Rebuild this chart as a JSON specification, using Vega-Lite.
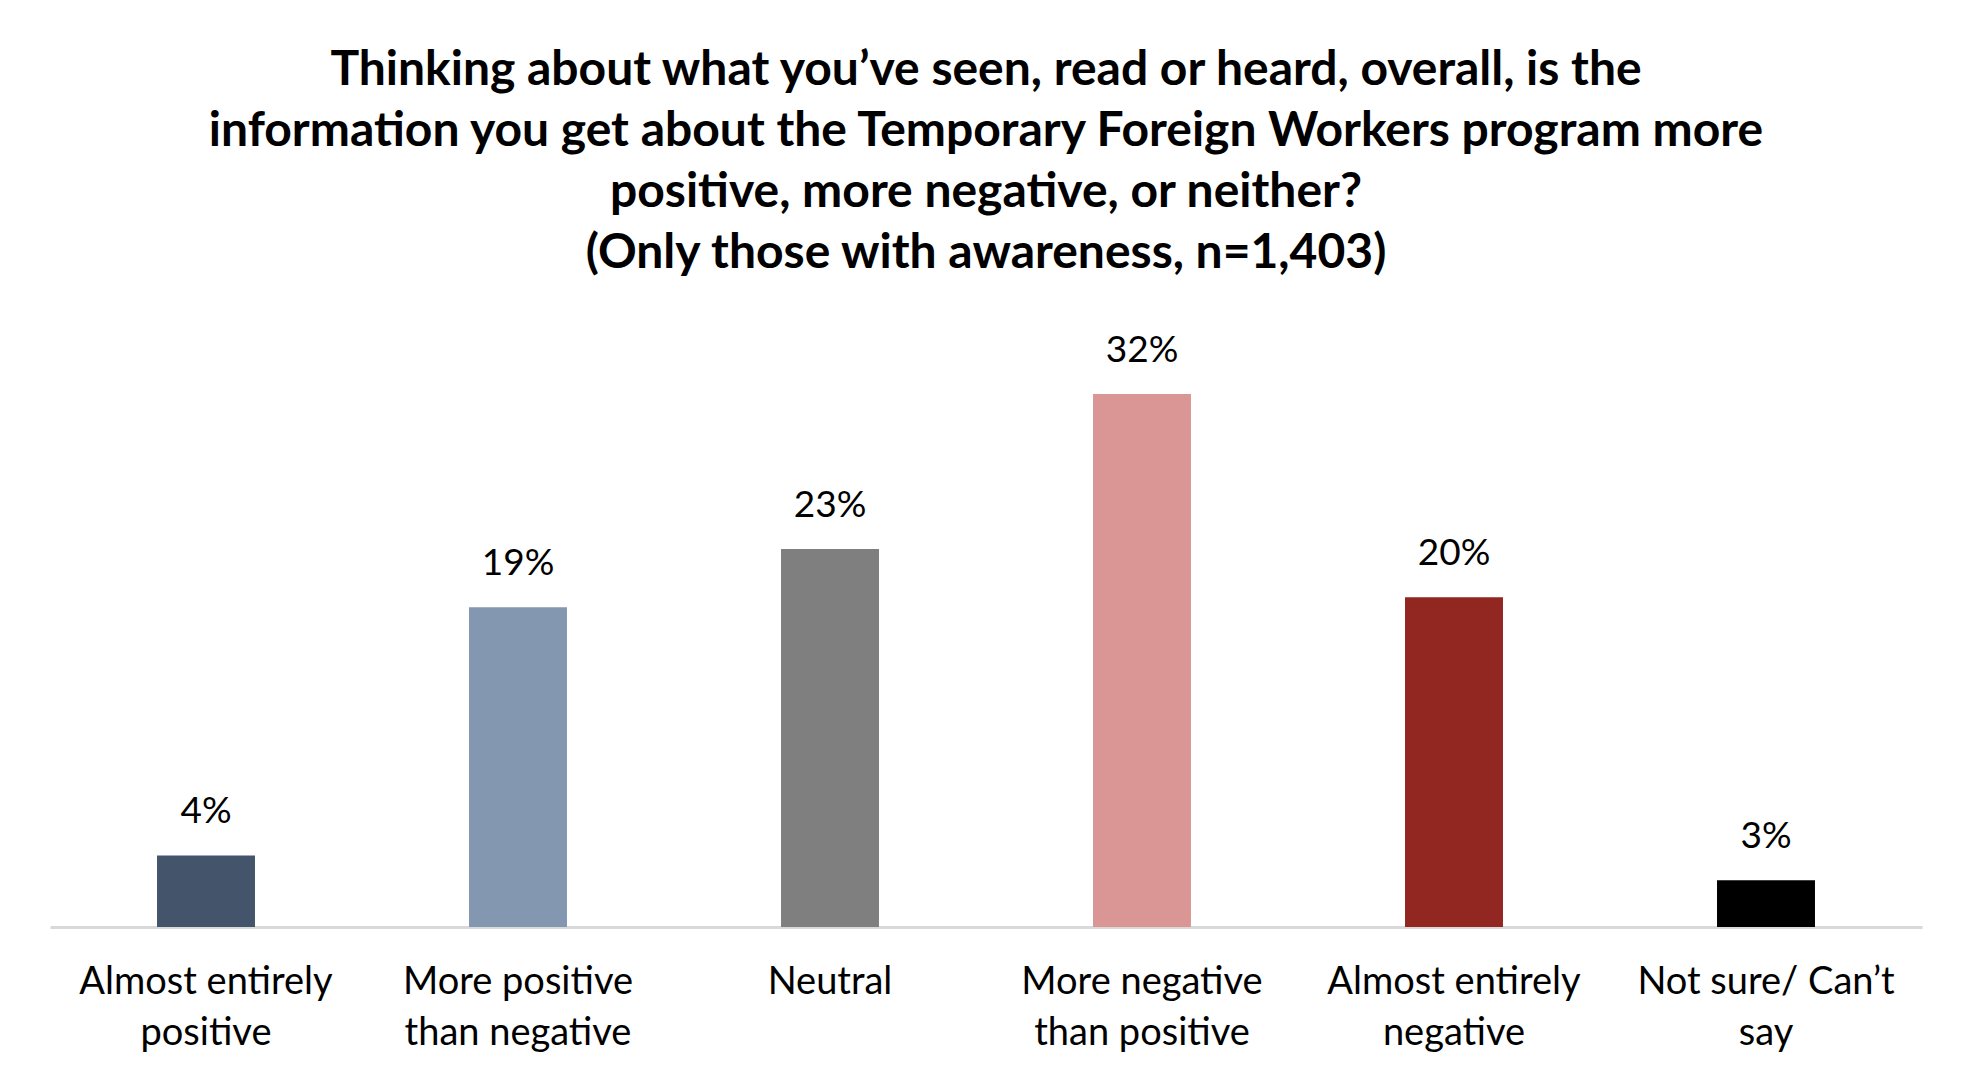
{
  "$schema": "https://vega.github.io/schema/vega-lite/v6.json",
  "autosize": "none",
  "width": 1872,
  "height": 533,
  "padding": {"left": 50, "right": 50, "top": 394, "bottom": 157},
  "background": "white",
  "title": {
    "text": ["Thinking about what you’ve seen, read or heard, overall, is the", "information you get about the Temporary Foreign Workers program more", "positive, more negative, or neither?", "(Only those with awareness, n=1,403)"],
    "font": "Lato",
    "fontSize": 48,
    "fontWeight": "bold",
    "lineHeight": 61,
    "color": "#000000",
    "anchor": "middle",
    "offset": 54
  },
  "data": {
    "values": [
      {"cat": "Almost entirely positive", "value": 4.3, "label": "4%"},
      {"cat": "More positive than negative", "value": 19.2, "label": "19%"},
      {"cat": "Neutral", "value": 22.7, "label": "23%"},
      {"cat": "More negative than positive", "value": 32, "label": "32%"},
      {"cat": "Almost entirely negative", "value": 19.8, "label": "20%"},
      {"cat": "Not sure/ Can’t say", "value": 2.8, "label": "3%"}
    ]
  },
  "encoding": {
    "x": {
      "field": "cat",
      "type": "nominal",
      "sort": null,
      "scale": {"paddingInner": 0.686, "paddingOuter": 0.343},
      "axis": {
        "title": null,
        "labelAngle": 0,
        "labelFont": "Lato",
        "labelFontSize": 38,
        "labelColor": "#000000",
        "labelLineHeight": 51,
        "labelPadding": 36,
        "labelLimit": 400,
        "ticks": false,
        "domainColor": "#d9d9d9",
        "domainWidth": 3,
        "grid": false,
        "labelExpr": "datum.value == 'Almost entirely positive' ? ['Almost entirely', 'positive'] : datum.value == 'More positive than negative' ? ['More positive', 'than negative'] : datum.value == 'More negative than positive' ? ['More negative', 'than positive'] : datum.value == 'Almost entirely negative' ? ['Almost entirely', 'negative'] : datum.value == 'Not sure/ Can’t say' ? ['Not sure/ Can’t', 'say'] : datum.value"
      }
    },
    "y": {
      "field": "value",
      "type": "quantitative",
      "scale": {"domain": [0, 32], "nice": false, "zero": true},
      "axis": null
    }
  },
  "layer": [
    {
      "mark": {"type": "bar"},
      "encoding": {
        "color": {
          "field": "cat",
          "type": "nominal",
          "sort": null,
          "scale": {"range": ["#44546a", "#8497b0", "#7f7f7f", "#da9694", "#922620", "#000000"]},
          "legend": null
        }
      }
    },
    {
      "mark": {"type": "text", "font": "Lato", "fontSize": 37, "color": "#000000", "baseline": "alphabetic", "dy": -32},
      "encoding": {"text": {"field": "label"}}
    }
  ],
  "config": {"view": {"stroke": null}}
}
